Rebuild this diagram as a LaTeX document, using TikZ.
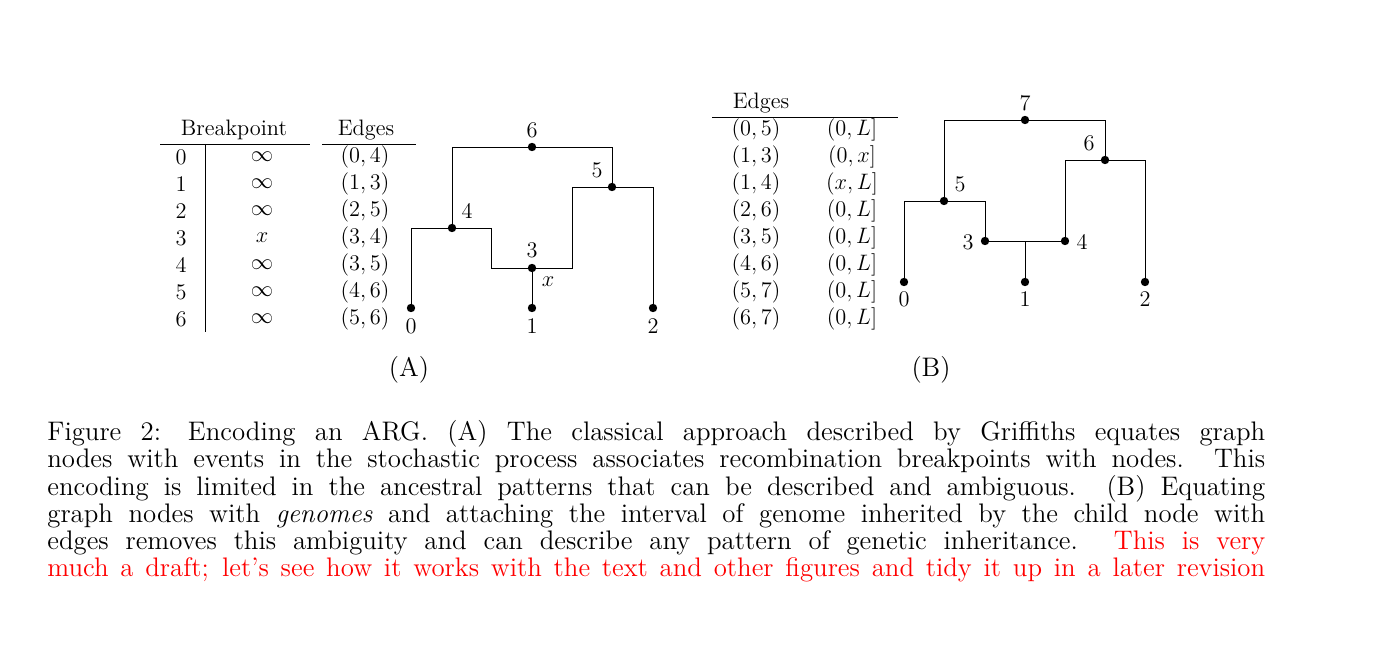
\documentclass[tikz,border=0pt]{standalone}
\usepackage{xcolor}
\begin{document}
\begin{tikzpicture}[x=0.537pt,y=-0.537pt,
  dot/.style={circle,fill=black,inner sep=0pt,minimum size=4.5pt},
  lbl/.style={inner sep=1pt,font=\fontsize{12}{14.5}\selectfont},
  tx/.style={inner sep=0pt,font=\fontsize{12}{14.5}\selectfont},
  bigtx/.style={inner sep=0pt,font=\fontsize{14.4}{18}\selectfont},
  captxt/.style={inner sep=0pt,anchor=base west,font=\fontsize{14.4}{18}\selectfont},
  ln/.style={line width=0.5pt}]
\useasboundingbox (0,0) rectangle (1373,645);
% Table A
\node[tx] (hbp) at (234,130) {Breakpoint};
\node[tx] (hea) at (366,130) {Edges};
\draw[ln] (160,144) coordinate (r1a) -- (310,144) coordinate (r1b);
\draw[ln] (322,144) coordinate (r2a) -- (416,144) coordinate (r2b);
\draw[ln] (205,144) coordinate (va) -- (205,332) coordinate (vb);
\foreach \i/\b/\e [count=\k from 0] in {0/\infty/{(0,4)},1/\infty/{(1,3)},2/\infty/{(2,5)},3/x/{(3,4)},4/\infty/{(3,5)},5/\infty/{(4,6)},6/\infty/{(5,6)}}{
  \node[tx] (ta\k) at (181,157+27*\k) {$\i$};
  \node[tx] (tb\k) at (262,157+27*\k) {$\b$};
  \node[tx] (tc\k) at (365,157+27*\k) {$\e$};
}
% Tree A
\node[dot] (a0) at (411,308) {};
\node[dot] (a1) at (532,308) {};
\node[dot] (a2) at (653,308) {};
\node[dot] (a4) at (452,228) {};
\node[dot] (a3) at (532,268) {};
\node[dot] (a5) at (612,187) {};
\node[dot] (a6) at (532,147) {};
\draw[ln] (a0.center) |- (a4.center);
\draw[ln] (a4.center) -| (491,268) -- (a3.center);
\draw[ln] (a3.center) -| (572,187) -- (a5.center);
\draw[ln] (a5.center) -| (a2.center);
\draw[ln] (a4.center) |- (a6.center);
\draw[ln] (a6.center) -| (a5.center);
\draw[ln] (a3.center) -- (a1.center);
\node[lbl] (la6) at (532,130) {6};
\node[lbl] (la5) at (597,170) {5};
\node[lbl] (la4) at (467,211) {4};
\node[lbl] (la3) at (532,250) {3};
\node[lbl] (lax) at (548,282) {$x$};
\node[lbl] (la0) at (411,326) {0};
\node[lbl] (la1) at (532,326) {1};
\node[lbl] (la2) at (653,326) {2};
\node[bigtx] (capA) at (409,370) {(A)};
% Table B
\node[tx] (heb) at (761,103) {Edges};
\draw[ln] (712,117) coordinate (r3a) -- (898,117) coordinate (r3b);
\foreach \e/\v [count=\k from 0] in {{(0,5)}/{(0,L]},{(1,3)}/{(0,x]},{(1,4)}/{(x,L]},{(2,6)}/{(0,L]},{(3,5)}/{(0,L]},{(4,6)}/{(0,L]},{(5,7)}/{(0,L]},{(6,7)}/{(0,L]}}{
  \node[tx] (ua\k) at (756,130+27*\k) {$\e$};
  \node[tx] (ub\k) at (852,130+27*\k) {$\v$};
}
% Tree B
\node[dot] (b0) at (904,282) {};
\node[dot] (b1) at (1025,282) {};
\node[dot] (b2) at (1145,282) {};
\node[dot] (b5) at (944,201) {};
\node[dot] (b3) at (985,241) {};
\node[dot] (b4) at (1065,241) {};
\node[dot] (b6) at (1105,160) {};
\node[dot] (b7) at (1025,120) {};
\coordinate (bm) at (1025,241);
\draw[ln] (b0.center) |- (b5.center);
\draw[ln] (b5.center) -| (b3.center);
\draw[ln] (b3.center) -- (b4.center);
\draw[ln] (b1.center) -- (bm);
\draw[ln] (b4.center) |- (b6.center);
\draw[ln] (b6.center) -| (b2.center);
\draw[ln] (b5.center) |- (b7.center);
\draw[ln] (b7.center) -| (b6.center);
\node[lbl] (lb7) at (1025,103) {7};
\node[lbl] (lb6) at (1089,143) {6};
\node[lbl] (lb5) at (960,184) {5};
\node[lbl] (lb3) at (968,242) {3};
\node[lbl] (lb4) at (1082,242) {4};
\node[lbl] (lb0) at (904,299) {0};
\node[lbl] (lb1) at (1025,299) {1};
\node[lbl] (lb2) at (1145,299) {2};
\node[bigtx] (capB) at (931,370) {(B)};
% Caption
\node[captxt] (c1) at (47,441) {\makebox[654pt][s]{Figure 2:\quad Encoding an ARG. (A) The classical approach described by Griffiths equates graph}};
\node[captxt] (c2) at (47,468) {\makebox[654pt][s]{nodes with events in the stochastic process associates recombination breakpoints with nodes. This}};
\node[captxt] (c3) at (47,495) {\makebox[654pt][s]{encoding is limited in the ancestral patterns that can be described and ambiguous. (B) Equating}};
\node[captxt] (c4) at (47,522) {\makebox[654pt][s]{graph nodes with \emph{genomes} and attaching the interval of genome inherited by the child node with}};
\node[captxt] (c5) at (47,549) {\makebox[654pt][s]{edges removes this ambiguity and can describe any pattern of genetic inheritance. \textcolor{red}{This is very}}};
\node[captxt,text=red] (c6) at (47,576) {\makebox[654pt][s]{much a draft; let's see how it works with the text and other figures and tidy it up in a later revision}};
\end{tikzpicture}
\end{document}
